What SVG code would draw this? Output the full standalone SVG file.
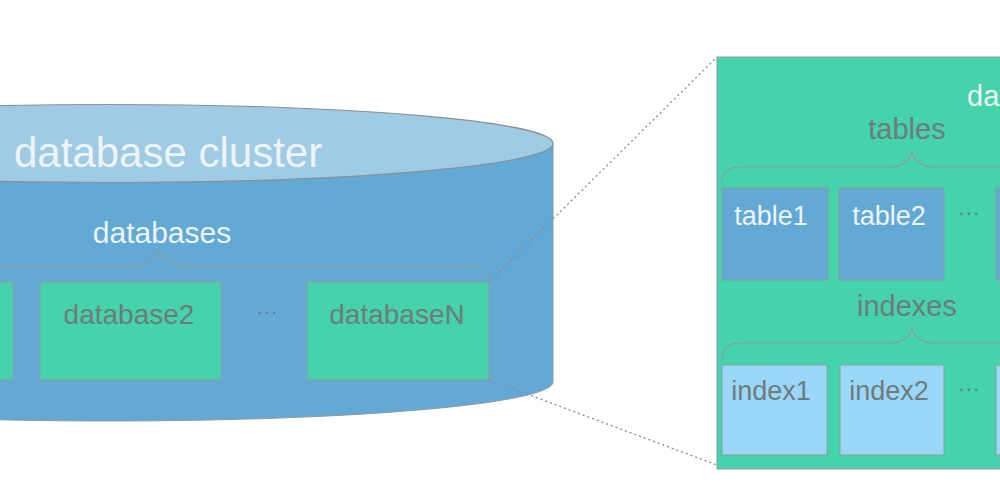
<svg xmlns="http://www.w3.org/2000/svg" width="1000" height="500" viewBox="0 0 1000 500">
  <style>
    .t { font-family: "Liberation Sans", Arial, sans-serif; }
    .white { fill: #eef4f7; }
    .gray { fill: #6f7b7b; }
    .green { fill: #44d3aa; stroke: #8f9c98; stroke-width: 1; }
    .blue { fill: #62a9d6; stroke: #8f9c98; stroke-width: 1; }
    .lblue { fill: #9ad7f9; stroke: #8f9c98; stroke-width: 1; }
    .brace { fill: none; stroke: #8d9a9a; stroke-width: 1.2; }
    .dot { fill: none; stroke: #8a8a8a; stroke-width: 1.3; stroke-dasharray: 2 3; }
  </style>
  <rect width="1000" height="500" fill="#ffffff"/>

  <g id="cluster">
    <path d="M -333,143.5 L -333,382 A 443 39 0 0 0 553,382 L 553,143.5 Z" fill="#62a9d6" stroke="#8f9aa0" stroke-width="1"/>
    <ellipse cx="110" cy="143.5" rx="443" ry="39" fill="#a0cbe5" stroke="#8a9096" stroke-width="1.2"/>
    <text class="t white" x="14" y="167" font-size="42">database cluster</text>
    <text class="t white" x="162" y="243" font-size="30" text-anchor="middle">databases</text>
    <path class="brace" d="M -170,283 Q -170,266 -150,266 L 132,266 Q 152,266 159,250 Q 166,266 186,266 L 469,266 Q 489,266 489,283"/>
  </g>

  <g id="database1">
    <rect class="green" x="-169" y="282" width="182" height="98"/>
  </g>
  <g id="database2">
    <rect class="green" x="40" y="282" width="181" height="98"/>
    <text class="t gray" x="129" y="324" font-size="28" text-anchor="middle">database2</text>
  </g>
  <g id="dbdots">
    <text class="t gray" x="267" y="319" font-size="22" text-anchor="middle">···</text>
  </g>
  <g id="databaseN">
    <rect class="green" x="307" y="282" width="182" height="98"/>
    <text class="t gray" x="397" y="324" font-size="28" text-anchor="middle">databaseN</text>
  </g>

  <g id="connectors">
    <line class="dot" x1="489" y1="282" x2="717" y2="57"/>
    <line class="dot" x1="489" y1="380" x2="717" y2="465"/>
  </g>

  <g id="detail">
    <rect class="green" x="717" y="57" width="300" height="412"/>
    <text class="t white" x="967" y="106" font-size="29">da</text>
    <text class="t gray" x="907" y="139" font-size="29" text-anchor="middle">tables</text>
    <path class="brace" d="M 722,182 Q 722,167 740,167 L 890,167 Q 907,167 912,152 Q 917,167 934,167 L 1010,167"/>
    <text class="t gray" x="907" y="316" font-size="29" text-anchor="middle">indexes</text>
    <path class="brace" d="M 722,360 Q 722,343 740,343 L 890,343 Q 907,343 912,329 Q 917,343 934,343 L 1010,343"/>
  </g>

  <g id="table1">
    <rect class="blue" x="722" y="188" width="106" height="92"/>
    <text class="t white" x="771" y="225" font-size="27" text-anchor="middle">table1</text>
  </g>
  <g id="table2">
    <rect class="blue" x="839" y="188" width="105" height="92"/>
    <text class="t white" x="889" y="225" font-size="27" text-anchor="middle">table2</text>
  </g>
  <g id="tabledots">
    <text class="t gray" x="969" y="220" font-size="22" text-anchor="middle">···</text>
  </g>
  <g id="table3">
    <rect class="blue" x="996" y="188" width="20" height="92"/>
  </g>

  <g id="index1">
    <rect class="lblue" x="722" y="365" width="105" height="90"/>
    <text class="t gray" x="771" y="400" font-size="27" text-anchor="middle">index1</text>
  </g>
  <g id="index2">
    <rect class="lblue" x="840" y="365" width="104" height="90"/>
    <text class="t gray" x="889" y="400" font-size="27" text-anchor="middle">index2</text>
  </g>
  <g id="indexdots">
    <text class="t gray" x="969" y="396" font-size="22" text-anchor="middle">···</text>
  </g>
  <g id="index3">
    <rect class="lblue" x="996" y="365" width="20" height="90"/>
  </g>
</svg>
